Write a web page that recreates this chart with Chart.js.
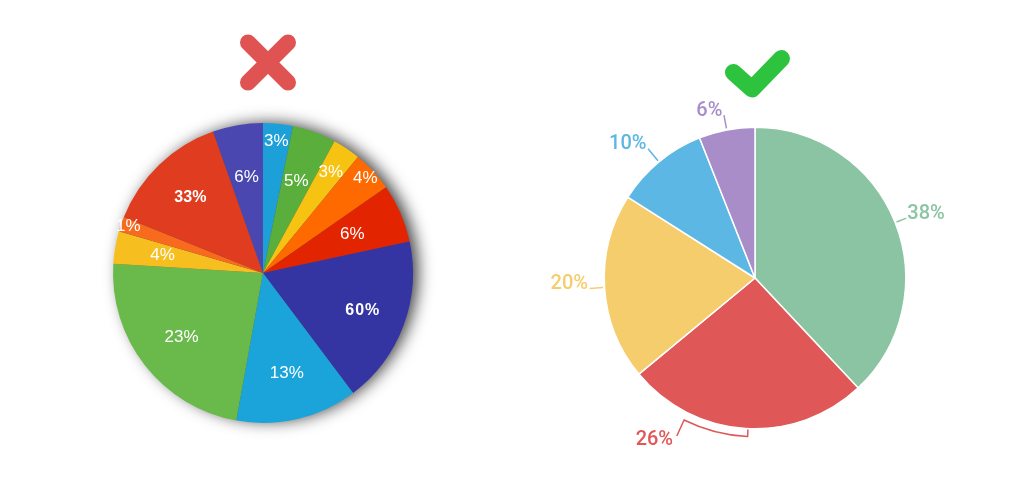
<!DOCTYPE html>
<html>
<head>
<meta charset="utf-8">
<script src="https://cdn.jsdelivr.net/npm/chart.js@4/dist/chart.umd.min.js"></script>
<style>
    html, body { margin: 0; padding: 0; background: #ffffff; }
    .layer { position: absolute; left: 0; top: 0; width: 1024px; height: 486px; }
</style>
</head>
<body>
<div class="layer"><canvas id="badChart"></canvas></div>
<div class="layer"><canvas id="goodChart"></canvas></div>
<script>
// Left ("wrong") pie: slice sizes as drawn, and the labels printed on them
const badLabels = ['3%', '5%', '3%', '4%', '6%', '60%', '13%', '23%', '4%', '1%', '33%', '6%'];
const badValues = [3.2, 4.7, 3.0, 4.4, 6.3, 18.1, 13.1, 23.1, 3.5, 1.6, 13.5, 5.4];
const badColors = ['#1d9fd8', '#5aae3c', '#f6c313', '#fe6a00', '#e32400', '#3434a2',
                   '#1ba4da', '#6aba4b', '#f6bf1f', '#f86a1d', '#e03c20', '#4b47b0'];

// Right ("right") pie
const goodLabels = ['38%', '26%', '20%', '10%', '6%'];
const goodValues = [38, 26, 20, 10, 6];
const goodColors = ['#8bc4a3', '#e05757', '#f6cd6c', '#5db7e4', '#a88dc9'];

// label placement (fraction of radius) for the left pie
const badLabelRadius = [0.88, 0.65, 0.81, 0.93, 0.65, 0.71, 0.69, 0.69, 0.68, 0.95, 0.70, 0.65];
const badBold = [false, false, false, false, false, true, false, false, false, false, true, false];

function arcProps(arc) {
    return arc.getProps(['x', 'y', 'startAngle', 'endAngle', 'outerRadius'], true);
}

const badPlugin = {
    id: 'badDecor',
    beforeDatasetsDraw(chart) {
        const a = arcProps(chart.getDatasetMeta(0).data[0]);
        const ctx = chart.ctx;
        ctx.save();
        ctx.shadowColor = 'rgba(0,0,0,0.75)';
        ctx.shadowBlur = 16;
        ctx.shadowOffsetX = 6;
        ctx.shadowOffsetY = -1;
        ctx.beginPath();
        ctx.arc(a.x, a.y, a.outerRadius - 1, 0, Math.PI * 2);
        ctx.fillStyle = '#555';
        ctx.fill();
        ctx.restore();
    },
    afterDatasetsDraw(chart) {
        const ctx = chart.ctx;
        ctx.save();
        ctx.fillStyle = '#ffffff';
        ctx.textAlign = 'center';
        ctx.textBaseline = 'middle';
        chart.getDatasetMeta(0).data.forEach(function(arc, i) {
            const a = arcProps(arc);
            const mid = (a.startAngle + a.endAngle) / 2;
            const r = a.outerRadius * badLabelRadius[i];
            if (badBold[i]) {
                ctx.font = 'bold 16px "Liberation Sans", Arial, sans-serif';
                ctx.letterSpacing = i === 5 ? '1px' : '0px';
            } else {
                ctx.font = '17px "Liberation Sans", Arial, sans-serif';
                ctx.letterSpacing = '0px';
            }
            ctx.fillText(badLabels[i], a.x + Math.cos(mid) * r, a.y + Math.sin(mid) * r);
        });
        ctx.restore();
    },
    afterDraw(chart) {
        // red cross
        const ctx = chart.ctx;
        const cx = 268, cy = 62.5, d = 20;
        ctx.save();
        ctx.strokeStyle = '#e05353';
        ctx.lineWidth = 16;
        ctx.lineCap = 'round';
        ctx.beginPath();
        ctx.moveTo(cx - d, cy - d); ctx.lineTo(cx + d, cy + d);
        ctx.moveTo(cx + d, cy - d); ctx.lineTo(cx - d, cy + d);
        ctx.stroke();
        ctx.restore();
    }
};

// leader lines for the right pie: distance beyond the edge where the line ends
const goodLeader = [12, 0, 15, 17, 15];

const goodPlugin = {
    id: 'goodDecor',
    afterDatasetsDraw(chart) {
        const ctx = chart.ctx;
        ctx.save();
        ctx.font = '500 20px Roboto, sans-serif';
        ctx.lineWidth = 1.5;
        ctx.textBaseline = 'alphabetic';
        chart.getDatasetMeta(0).data.forEach(function(arc, i) {
            const a = arcProps(arc);
            const R = a.outerRadius;
            ctx.strokeStyle = goodColors[i];
            ctx.fillStyle = goodColors[i];
            if (i === 1) {
                // bracket along the edge
                const span = a.endAngle - a.startAngle;
                const a1 = a.startAngle + 0.49 * span;
                const a2 = a.startAngle + 0.745 * span;
                const cx = a.x + Math.cos(a2) * (R + 8);
                const cy = a.y + Math.sin(a2) * (R + 8);
                ctx.beginPath();
                ctx.moveTo(cx - 7.3, cy + 16);
                ctx.lineTo(cx, cy);
                ctx.arc(a.x, a.y, R + 8, a2, a1, true);
                ctx.lineTo(a.x + Math.cos(a1) * (R + 1), a.y + Math.sin(a1) * (R + 1));
                ctx.stroke();
                ctx.textAlign = 'right';
                ctx.fillText(goodLabels[i], cx - 11, cy + 24.5);
                return;
            }
            const mid = (a.startAngle + a.endAngle) / 2;
            const x1 = a.x + Math.cos(mid) * (R + 1.5);
            const y1 = a.y + Math.sin(mid) * (R + 1.5);
            const x2 = a.x + Math.cos(mid) * (R + goodLeader[i]);
            const y2 = a.y + Math.sin(mid) * (R + goodLeader[i]);
            ctx.beginPath();
            ctx.moveTo(x1, y1);
            ctx.lineTo(x2, y2);
            ctx.stroke();
            const right = Math.cos(mid) > 0;
            ctx.textAlign = right ? 'left' : 'right';
            ctx.fillText(goodLabels[i], x2 + (right ? 1 : -1.5), y2 + 0.5);
        });
        ctx.restore();
    },
    afterDraw(chart) {
        // green check mark
        const ctx = chart.ctx;
        ctx.save();
        ctx.strokeStyle = '#2ec33f';
        ctx.lineWidth = 17;
        ctx.lineCap = 'round';
        ctx.lineJoin = 'round';
        ctx.beginPath();
        ctx.moveTo(733.5, 72.5);
        ctx.lineTo(752, 89);
        ctx.lineTo(781.5, 58.5);
        ctx.stroke();
        ctx.restore();
    }
};

new Chart(document.getElementById('badChart').getContext('2d'), {
    type: 'pie',
    data: {
        labels: badLabels,
        datasets: [{
            data: badValues,
            backgroundColor: badColors,
            borderWidth: 0
        }]
    },
    options: {
        responsive: true,
        maintainAspectRatio: false,
        animation: false,
        events: [],
        layout: { padding: { left: 113, right: 611, top: 123, bottom: 63 } },
        plugins: { legend: { display: false }, tooltip: { enabled: false } }
    },
    plugins: [badPlugin]
});

new Chart(document.getElementById('goodChart').getContext('2d'), {
    type: 'pie',
    data: {
        labels: goodLabels,
        datasets: [{
            data: goodValues,
            backgroundColor: goodColors,
            borderColor: '#ffffff',
            borderWidth: 1.5
        }]
    },
    options: {
        responsive: true,
        maintainAspectRatio: false,
        animation: false,
        events: [],
        layout: { padding: { left: 603.5, right: 117.5, top: 126.5, bottom: 56.5 } },
        plugins: { legend: { display: false }, tooltip: { enabled: false } }
    },
    plugins: [goodPlugin]
});
</script>
</body>
</html>
